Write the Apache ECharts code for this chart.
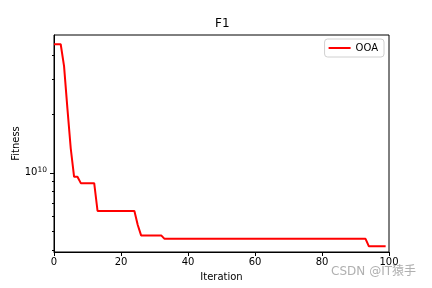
<!DOCTYPE html>
<html>
<head>
<meta charset="utf-8">
<script src="https://cdn.jsdelivr.net/npm/echarts@6/dist/echarts.min.js"></script>
<style>html,body{margin:0;padding:0;background:#fff}#c{width:432px;height:288px}</style>
</head>
<body>
<div id="c"></div>
<script>
const chartTitle = 'F1';
const seriesName = 'OOA';
const xLabel = 'Iteration';
const yLabel = 'Fitness';
const xTicks = [0, 20, 40, 60, 80, 100];
const yMajorTicks = [1e10];
const yMinorTicks = [4e9, 5e9, 6e9, 7e9, 8e9, 9e9, 2e10, 3e10, 4e10];
const fitness = [
  4.53e10, 4.53e10, 4.53e10, 3.50e10, 2.13e10, 1.33e10, 9.54e9, 9.54e9, 8.85e9, 8.85e9,
  8.85e9, 8.85e9, 8.85e9, 6.38e9, 6.38e9, 6.38e9, 6.38e9, 6.38e9, 6.38e9, 6.38e9,
  6.38e9, 6.38e9, 6.38e9, 6.38e9, 6.38e9, 5.41e9, 4.79e9, 4.79e9, 4.79e9, 4.79e9,
  4.79e9, 4.79e9, 4.79e9, 4.60e9, 4.60e9, 4.60e9, 4.60e9, 4.60e9, 4.60e9, 4.60e9,
  4.60e9, 4.60e9, 4.60e9, 4.60e9, 4.60e9, 4.60e9, 4.60e9, 4.60e9, 4.60e9, 4.60e9,
  4.60e9, 4.60e9, 4.60e9, 4.60e9, 4.60e9, 4.60e9, 4.60e9, 4.60e9, 4.60e9, 4.60e9,
  4.60e9, 4.60e9, 4.60e9, 4.60e9, 4.60e9, 4.60e9, 4.60e9, 4.60e9, 4.60e9, 4.60e9,
  4.60e9, 4.60e9, 4.60e9, 4.60e9, 4.60e9, 4.60e9, 4.60e9, 4.60e9, 4.60e9, 4.60e9,
  4.60e9, 4.60e9, 4.60e9, 4.60e9, 4.60e9, 4.60e9, 4.60e9, 4.60e9, 4.60e9, 4.60e9,
  4.60e9, 4.60e9, 4.60e9, 4.60e9, 4.21e9, 4.21e9, 4.21e9, 4.21e9, 4.21e9, 4.21e9
];
const yMin = 3.94e9, yMax = 5.05e10;

const font = 'DejaVu Sans';
const chart = echarts.init(document.getElementById('c'), null, {renderer: 'canvas'});
const yBase = {
  type: 'log', logBase: 10, min: yMin, max: yMax, position: 'left',
  splitLine: {show: false}
};
chart.setOption({
  animation: false,
  backgroundColor: '#fff',
  grid: {left: 54, right: 43, top: 35, bottom: 36, show: true, borderColor: '#000', borderWidth: 1,
         containLabel: false, outerBoundsMode: 'none'},
  graphic: [
    {type: 'text', left: 215, top: 18, style: {text: chartTitle, font: '12px "DejaVu Sans"', fill: '#000'}},
    {type: 'text', right: 16, top: 266, style: {text: 'CSDN @IT猿手', font: '12px "DejaVu Sans", "Noto Sans CJK SC"', fill: '#b0b0b0'}}
  ],
  legend: {
    right: 48, top: 39, itemWidth: 22, itemHeight: 2, itemGap: 6,
    padding: [4, 6, 4, 4], borderColor: '#d0d0d0', borderWidth: 1, borderRadius: 3,
    textStyle: {fontFamily: font, fontSize: 10, color: '#000'},
    data: [{name: seriesName, icon: 'rect'}]
  },
  xAxis: {
    type: 'value', min: 0, max: 100, interval: 20,
    name: xLabel, nameLocation: 'middle', nameGap: 20, nameMoveOverlap: false,
    nameTextStyle: {fontFamily: font, fontSize: 10, color: '#000'},
    axisLine: {lineStyle: {color: '#000', width: 1}},
    axisTick: {show: true, length: 4, lineStyle: {color: '#000'}, customValues: xTicks},
    axisLabel: {fontFamily: font, fontSize: 10, color: '#000', margin: 5, customValues: xTicks},
    splitLine: {show: false}
  },
  yAxis: [
    Object.assign({}, yBase, {
      name: yLabel, nameLocation: 'middle', nameGap: 33, nameRotate: 90, nameMoveOverlap: false,
      nameTextStyle: {fontFamily: font, fontSize: 10, color: '#000'},
      axisLine: {show: true, lineStyle: {color: '#000', width: 1}},
      axisTick: {show: true, length: 4, lineStyle: {color: '#000'}, customValues: yMajorTicks},
      axisLabel: {
        fontFamily: font, fontSize: 10, color: '#000', margin: 7, customValues: yMajorTicks,
        formatter: function (v) { return '10{s|10}'; },
        rich: {s: {fontFamily: font, fontSize: 7.5, color: '#000', verticalAlign: 'top', padding: [0, 0, 6, 0]}}
      }
    }),
    Object.assign({}, yBase, {
      axisLine: {show: false},
      axisTick: {show: true, length: 2, lineStyle: {color: '#000'}, customValues: yMinorTicks},
      axisLabel: {show: false}
    })
  ],
  series: [{
    name: seriesName, type: 'line', yAxisIndex: 0, showSymbol: false,
    lineStyle: {color: '#ff0000', width: 2}, itemStyle: {color: '#ff0000'},
    data: fitness.map((v, i) => [i, v])
  }]
});
</script>
</body>
</html>
